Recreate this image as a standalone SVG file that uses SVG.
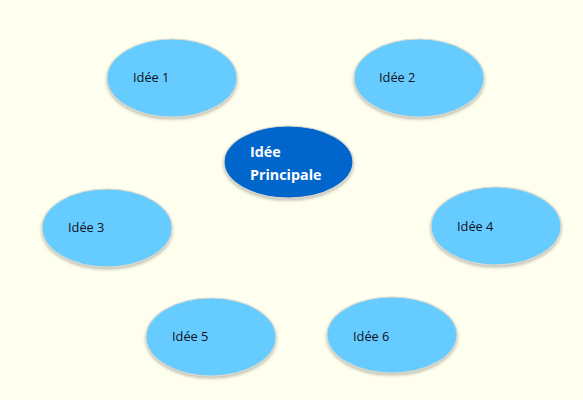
<svg xmlns="http://www.w3.org/2000/svg" width="583" height="400" viewBox="0 0 583 400">
<style>
.idea{fill:#66CCFF;stroke:#D9D9D0;stroke-width:1.2;filter:url(#sh)}
.main{fill:#0066CC;stroke:#D9D9D0;stroke-width:1.2;filter:url(#sh)}
.lbl{font-family:"Open Sans","Liberation Sans",sans-serif;font-size:12.8px;fill:#10101C}
.mlbl{font-family:"Open Sans","Liberation Sans",sans-serif;font-size:14.3px;font-weight:bold;fill:#FFFFFF}
</style>
<defs>
<filter id="sh" x="-20%" y="-20%" width="140%" height="150%">
<feDropShadow dx="0" dy="2" stdDeviation="1.5" flood-color="#808070" flood-opacity="0.5"/>
</filter>
</defs>
<rect width="583" height="400" fill="#FFFFF0"/>
<g id="connectors"></g>
<g id="main"><ellipse class="main" cx="288.5" cy="162" rx="64.5" ry="36"/><text class="mlbl" x="250" y="157">Idée</text><text class="mlbl" x="250" y="180">Principale</text></g>
<g id="idee1"><ellipse class="idea" cx="172" cy="78" rx="65" ry="39"/><text class="lbl" x="133" y="82">Idée 1</text></g>
<g id="idee2"><ellipse class="idea" cx="419" cy="78" rx="65" ry="39"/><text class="lbl" x="379" y="82">Idée 2</text></g>
<g id="idee3"><ellipse class="idea" cx="107" cy="228" rx="65" ry="39"/><text class="lbl" x="68" y="232">Idée 3</text></g>
<g id="idee4"><ellipse class="idea" cx="496" cy="226" rx="65" ry="39"/><text class="lbl" x="457" y="231">Idée 4</text></g>
<g id="idee5"><ellipse class="idea" cx="211" cy="337" rx="65" ry="39"/><text class="lbl" x="172" y="341">Idée 5</text></g>
<g id="idee6"><ellipse class="idea" cx="392" cy="335" rx="65" ry="38"/><text class="lbl" x="353" y="341">Idée 6</text></g>
</svg>
